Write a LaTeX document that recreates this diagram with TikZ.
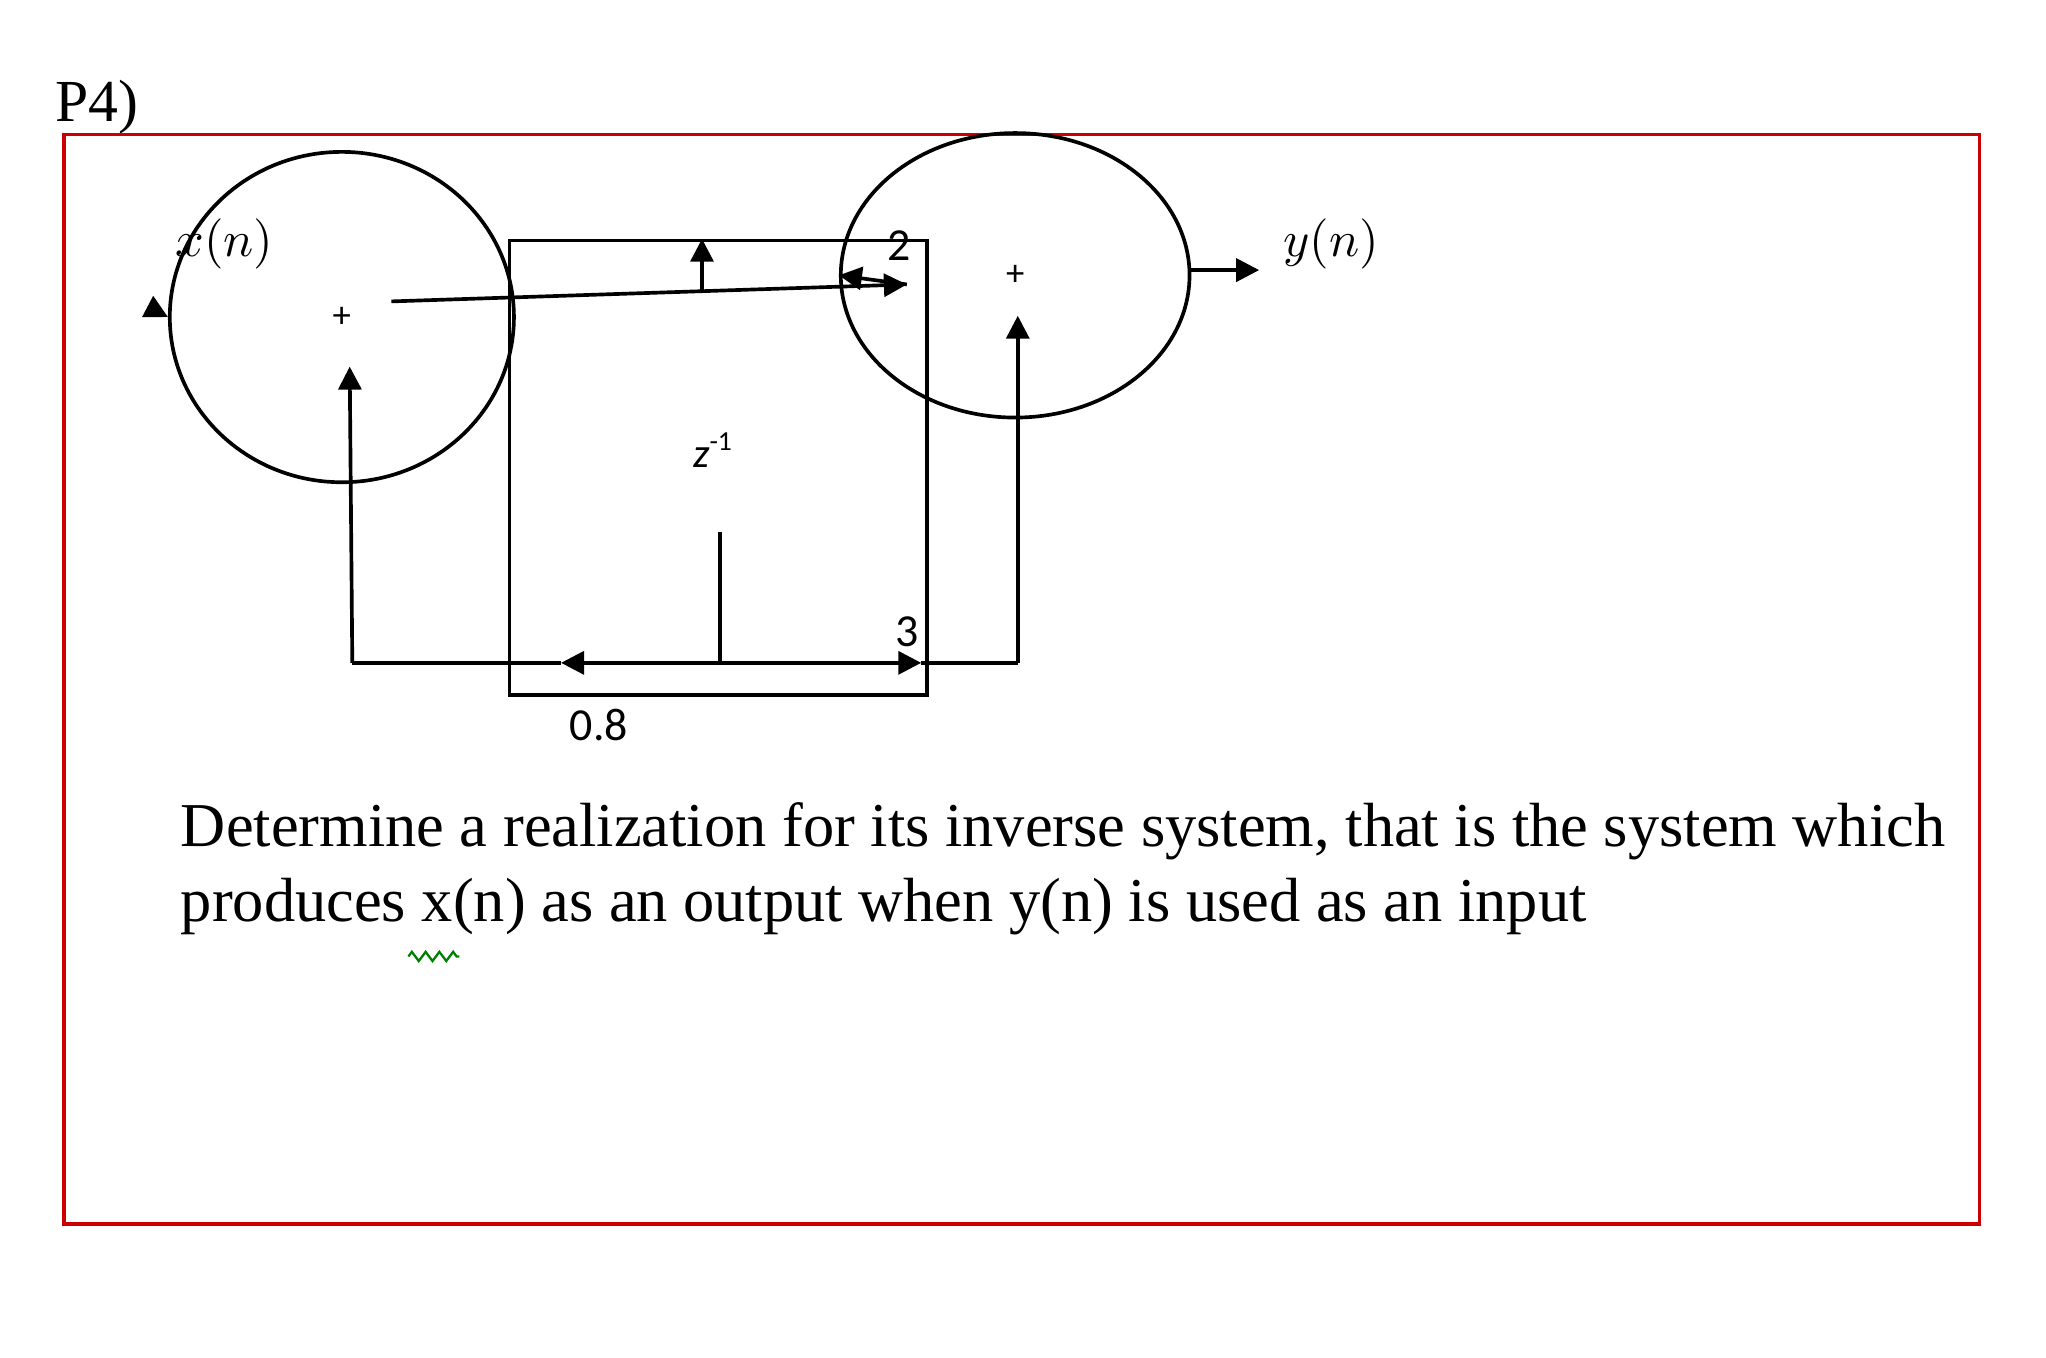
\documentclass[tikz,border=0pt]{standalone}
\usepackage{fontspec}
\setmainfont{Liberation Serif}
\newfontfamily\calib{Carlito}
\usetikzlibrary{arrows.meta,decorations.pathmorphing,shapes.geometric}
\begin{document}
\begin{tikzpicture}[x=0.01cm,y=-0.01cm,
  sig/.style={line width=0.8pt},
  arr/.style={sig,-{Triangle[length=5pt,width=5pt]}},
  lbl/.style={font=\calib\fontsize{10}{12}\selectfont},
  body/.style={font=\fontsize{13.6}{16}\selectfont,anchor=west,inner sep=0}]
\useasboundingbox (0,0) rectangle (1568,1040);
\node[anchor=west,inner sep=0,font=\fontsize{13}{15}\selectfont] (p4) at (42,82) {P4)};
\draw[red!80!black,line width=0.7pt] (49,103) rectangle (1517,938);
\node[draw,sig,ellipse,minimum width=75,minimum height=72,inner sep=0] (s1) at (262,243) {};
\node[lbl,font=\calib\fontsize{8}{10}\selectfont] at (s1) {+};
\node[draw,sig,ellipse,minimum width=76,minimum height=62,inner sep=0] (s2) at (778,211) {};
\node[lbl,font=\calib\fontsize{8}{10}\selectfont] at (s2) {+};
\node[font=\itshape\fontsize{11}{13}\selectfont] (xn) at (172,187) {$x(n)$};
\node[font=\itshape\fontsize{11}{13}\selectfont] (yn) at (1020,187) {$y(n)$};
\coordinate (in) at (123,240);
\draw[arr] (in) -- (s1.west);
\coordinate (a) at (300,231);
\coordinate (g2) at (695,218);
\draw[arr] (a) -- (g2);
\draw[arr] (g2) -- (s2.west);
\node[lbl] (l2) at (689,188) {2};
\coordinate (out) at (965,207);
\draw[arr] (s2.east |- out) -- (out);
\coordinate (br) at (538,222);
\node[draw,sig,minimum width=91,minimum height=99,inner sep=0] (d) at (550.5,358.5) {};
\node[font=\calib\fontsize{9}{11}\selectfont] (zl) at (547,345) {\itshape z\textsuperscript{\upshape -1}};
\draw[arr] (br) -- (br |- d.north);
\coordinate (bot) at (552,508);
\coordinate (bl) at (270,508);
\coordinate (brr) at (780,508);
\draw[sig] (552,408) -- (bot);
\draw[arr] (bot) -- (430,508);
\draw[sig] (430,508) -- (bl);
\draw[arr] (bl) -- (268,281);
\draw[arr] (bot) -- (706,508);
\draw[sig] (706,508) -- (brr);
\draw[arr] (brr) -- (780,242);
\node[lbl] (l3) at (695,484) {3};
\node[lbl] (l8) at (459,556) {0.8};
\node[body] (t1) at (138,637) {Determine a realization for its inverse system, that is the system which};
\node[body] (t2) at (138,695) {produces x(n) as an output when y(n) is used as an input};
\draw[green!50!black,line width=0.5pt,decorate,decoration={zigzag,amplitude=1pt,segment length=3pt}] (313,733) -- (352,733);
\end{tikzpicture}
\end{document}
